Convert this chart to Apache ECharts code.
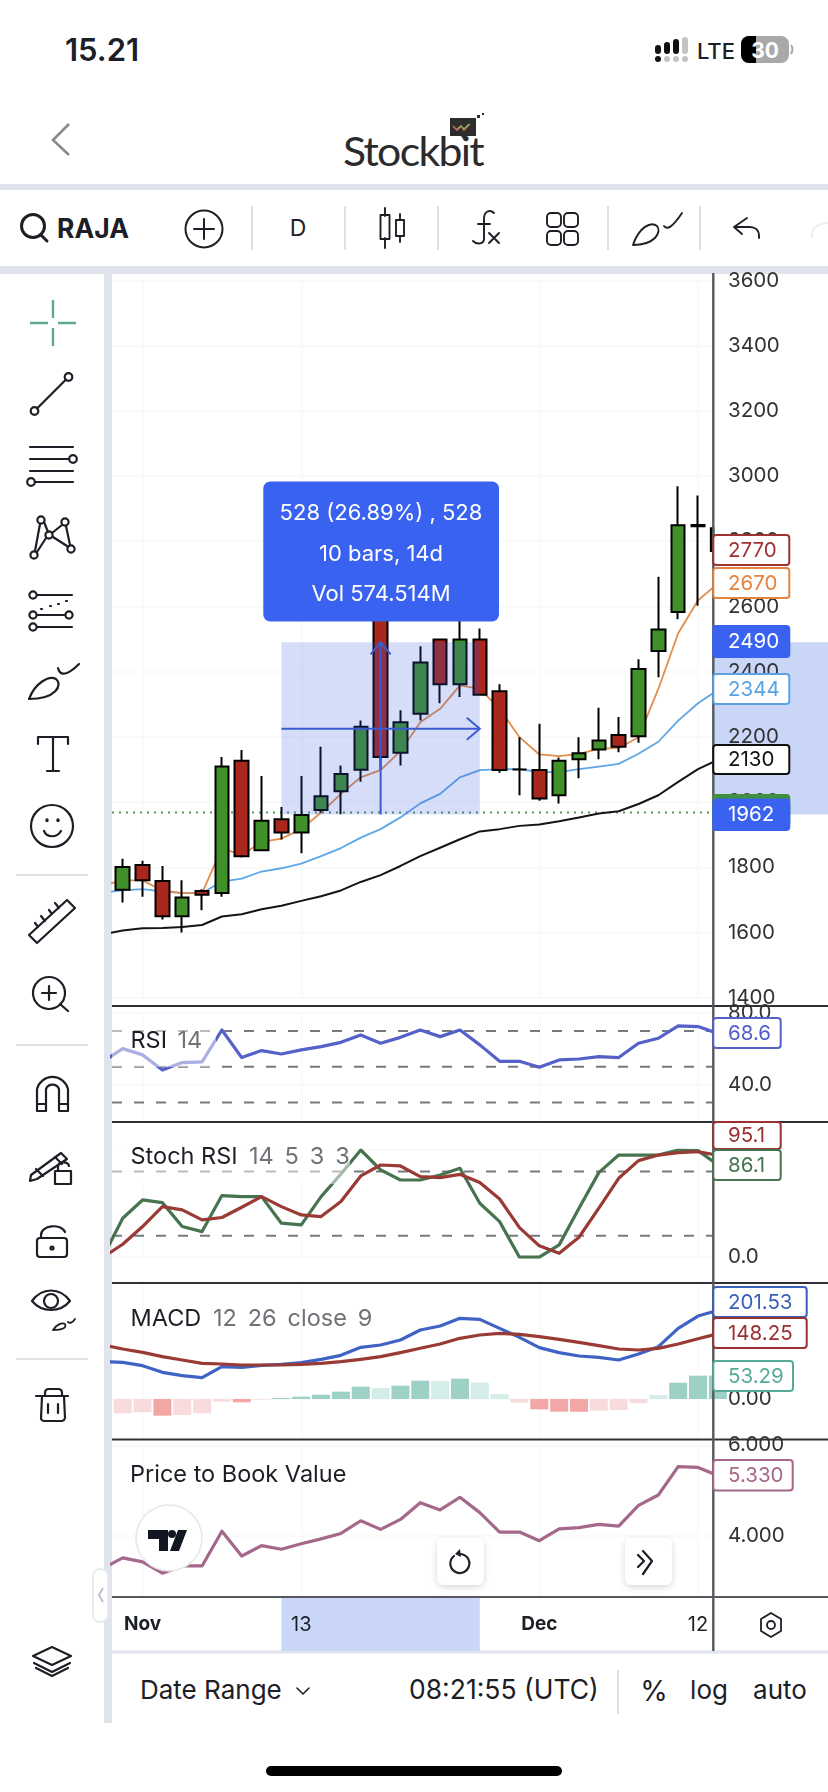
<!DOCTYPE html>
<html>
<head>
<meta charset="utf-8">
<title>RAJA</title>
<script src="https://cdn.jsdelivr.net/npm/echarts@6/dist/echarts.min.js"></script>
<style>
html, body { margin: 0; padding: 0; background: #fff; width: 828px; height: 1792px; overflow: hidden; }
svg, #mychart { position: absolute; left: 0; top: 0; width: 828px; height: 1792px; }
svg text { font-family: Inter, sans-serif; fill: #1c2026; }
.ic { fill: none; stroke: #1c2026; stroke-width: 2.2; stroke-linecap: round; stroke-linejoin: round; }
</style>
</head>
<body>
<svg viewBox="0 0 828 1792">
  <text x="65" y="61" font-size="31" font-weight="600">15.21</text>
  <g fill="#111">
    <rect x="655" y="45" width="6" height="9" rx="3"/><rect x="664" y="42" width="6" height="12" rx="3"/><rect x="673" y="39" width="6" height="15" rx="3"/>
    <rect x="655" y="56" width="6" height="6" rx="3"/>
  </g>
  <g fill="#c4c4c4">
    <rect x="682" y="37" width="6" height="17" rx="3"/><rect x="664" y="56" width="6" height="6" rx="3"/><rect x="673" y="56" width="6" height="6" rx="3"/><rect x="682" y="56" width="6" height="6" rx="3"/>
  </g>
  <text x="697" y="59" font-size="22" font-weight="500">LTE</text>
  <rect x="741" y="36" width="48" height="27" rx="8" fill="#a9a9a9"/>
  <path d="M749 36h7v27h-7a8 8 0 0 1-8-8v-11a8 8 0 0 1 8-8z" fill="#000"/>
  <text x="765" y="58" font-size="21" font-weight="700" text-anchor="middle" style="fill:#fff">30</text>
  <path d="M791 45q3 4 0 9" fill="none" stroke="#a9a9a9" stroke-width="2"/>

  <path d="M69 124L53 140L69 155" fill="none" stroke="#8a8a8a" stroke-width="2.6"/>
  <text x="343" y="166" font-size="41" style="fill:#2b2b2b;font-family:Lato" letter-spacing="-1.6" textLength="140" lengthAdjust="spacingAndGlyphs">Stockbit</text>
  <path d="M450 118h26v18h-10l-2 4-3-4h-11z" fill="#2d2d2d"/>
  <path d="M453 126l4 4 4-4 3 4 6-6" fill="none" stroke="#c9695c" stroke-width="1.6"/>
  <path d="M457 129l4-3 3 3 5-5" fill="none" stroke="#8bb04f" stroke-width="1.2"/>
  <rect x="472" y="119" width="4" height="4" fill="#2d2d2d"/><rect x="477" y="115" width="3" height="3" fill="#2d2d2d"/><rect x="482" y="113" width="2" height="2" fill="#2d2d2d"/>

  <rect x="0" y="184" width="828" height="6" fill="#e0e4ec"/>
  <rect x="0" y="266" width="828" height="8" fill="#e0e4ec"/>
  <circle cx="33" cy="226" r="11.5" class="ic" style="stroke-width:3"/><path d="M41 235L47 241" class="ic" style="stroke-width:3"/>
  <text x="57" y="238" font-size="26.500" font-weight="700">RAJA</text>
  <circle cx="204" cy="229" r="18.5" class="ic" style="stroke-width:2"/><path d="M204 219v20M194 229h20" class="ic" style="stroke-width:2"/>
  <g stroke="#dcdfe5" stroke-width="2">
    <path d="M252 206v44M345 206v44M438 206v44M608 206v44M700 206v44"/>
  </g>
  <text x="298" y="236" font-size="23" text-anchor="middle">D</text>
  <g class="ic" style="stroke-width:1.9">
    <path d="M385 208v8M385 238v10M400 214v6M400 236v6"/><rect x="380.5" y="215" width="9" height="24"/><rect x="396" y="220" width="8" height="16"/>
    <path d="M494 213c-4-4-10-2-10 6v20c0 5-7 6-11 2M478 224h12"/>
    <path d="M489 233l10 10M499 233l-10 10"/>
    <rect x="547" y="213" width="14" height="14" rx="4"/><rect x="564" y="213" width="14" height="14" rx="4"/><rect x="547" y="231" width="14" height="14" rx="4"/><rect x="564" y="231" width="14" height="14" rx="4"/>
    <path d="M633 245c6-18 18-24 24-19 5 6-2 19-24 19zM664 226c3 4 8 2 18-13"/>
    <path d="M747 218l-13 9h16c5 0 9 3 9 9v2M734 227l8 7"/>
  </g>
  <path d="M812 238v-5c0-6 8-10 16-10" fill="none" stroke="#eceef1" stroke-width="2"/>

  <path d="M104 274h8v1449h-8z" fill="#e0e4ec"/>

  <g stroke="#5ea88f" stroke-width="2.4">
    <path d="M53 300v18M53 328v18M30 323h18M58 323h18"/>
  </g>
  <g class="ic">
    <circle cx="34.5" cy="411" r="3.8"/><circle cx="68.5" cy="377" r="3.8"/><path d="M37 408.500L66 379.500"/>
    <path d="M30 447h43M30 459h39M30 471h43M35 482h38"/><circle cx="73" cy="459" r="3.8"/><circle cx="31" cy="482" r="3.8"/>
    <circle cx="41" cy="520" r="3.6"/><circle cx="65" cy="522" r="3.6"/><circle cx="49" cy="535" r="3.6"/><circle cx="34" cy="555" r="3.6"/><circle cx="71" cy="549" r="3.6"/>
    <path d="M40 524L35 551M44 522L48 532M37 552L46 538M52 533L62 525M53 537L67 546M66 526L70 545"/>
    <circle cx="33" cy="595" r="3.6"/><path d="M37 595h35"/><circle cx="33" cy="615" r="3.6"/><circle cx="69" cy="615" r="3.6"/><path d="M37 615h28"/><circle cx="33" cy="627" r="3.6"/><path d="M37 627h35"/>
    <path d="M41 609l1 0M50 606l1 0M58 604l1 0M66 601l1 0"/>
    <path d="M29 699c6-16 20-24 27-20 7 6 0 20-27 20zM58 668c2 9 10 7 21-4"/>
    <path d="M38 744v-7h30v7M53 737v34M47 771h12"/>
    <circle cx="52" cy="826" r="21"/><path d="M44 831c3 7 13 7 17 0"/>
    <path d="M47 820l0 .5M58 820l0 .5" style="stroke-width:3.4"/>
  </g>
  <g stroke="#dfe2e7" stroke-width="2">
    <path d="M16 875h72M16 1045h72M16 1359h72"/>
  </g>
  <g class="ic">
    <path d="M29 935L67 900L75 908L37 943zM38 927l-3-4M45 921l-4-5M52 914l-3-4M59 908l-4-5"/>
    <circle cx="49" cy="993" r="16"/><path d="M49 986v14M42 993h14M60 1004l8 7"/>
    <path d="M37 1111v-22a16 16 0 0 1 31 0v22h-9v-22a7 7 0 0 0-13 0v22zM37 1104h9M59 1104h9"/>
    <path d="M31 1175l30-22 6 6-30 20-7 2zM36 1169l7 7M55 1157l7 7"/><rect x="55" y="1171" width="16" height="13"/><path d="M58 1171v-4c0-6 10-6 11-1"/>
    <rect x="37" y="1238" width="30" height="19" rx="3"/><path d="M41 1238v-3c0-10 20-12 24-3"/><circle cx="52" cy="1248" r="1.500"/>
    <path d="M32 1301c10-14 28-14 38 0c-10 12-28 12-38 0z"/><circle cx="51" cy="1301" r="7"/>
    <path d="M53 1330c3-5 9-8 12-6 2 4-3 6-12 6zM68 1322c2 2 5 0 7-3" style="stroke-width:1.8"/>
    <path d="M36 1396h32M42 1396l-1 23a4 4 0 0 0 3 2h18a4 4 0 0 0 3-3l-1-22M45 1396v-3q0-4 4-4h9q4 0 4 4v3M48 1404v9M58 1404v9"/>
    <path d="M33 1656l19-9 19 9-19 9zM34 1663l18 9 18-9M36 1668l16 8 16-8"/>
  </g>
  <rect x="93" y="1569" width="15" height="53" rx="7" fill="#fff" stroke="#e4e6ea" stroke-width="1.500"/>
  <path d="M103 1588l-4 7 4 7" fill="none" stroke="#b8bcc4" stroke-width="1.800"/>

  <path d="M112 1652h716" stroke="#e0e4ec" stroke-width="3"/>
  <path d="M771 1613l10 6v12l-10 6-10-6v-12z" class="ic" style="stroke-width:1.800"/><circle cx="771" cy="1625" r="4" class="ic" style="stroke-width:1.800"/>

  <text x="140" y="1699" font-size="26">Date Range</text>
  <path d="M297 1688l6 6 6-6" class="ic" style="stroke-width:1.600"/>
  <text x="409" y="1699" font-size="26.500">08:21:55 (UTC)</text>
  <path d="M618 1670v44" stroke="#dcdfe5" stroke-width="2"/>
  <text x="654" y="1701" font-size="28" text-anchor="middle">%</text>
  <text x="709" y="1699" font-size="26" text-anchor="middle">log</text>
  <text x="780" y="1699" font-size="26" text-anchor="middle">auto</text>
  <rect x="266" y="1766" width="296" height="10" rx="5" fill="#000"/>
</svg>

<div id="mychart"></div>

<svg viewBox="0 0 828 1792" style="pointer-events:none">
  <defs><filter id="sh" x="-30%" y="-30%" width="160%" height="170%"><feDropShadow dx="0" dy="2" stdDeviation="3" flood-opacity=".16"/></filter></defs>
  <circle cx="169" cy="1538" r="33" fill="#fff" stroke="#e4e6e8" stroke-width="1.500"/>
  <path d="M148 1530h20v21h-9v-12h-11zM187 1530h-9l-8 21h9z" fill="#131722"/><circle cx="172" cy="1534" r="4" fill="#131722"/>
  <rect x="437" y="1538" width="47" height="47" rx="7" fill="#fff" filter="url(#sh)"/>
  <path d="M454 1556a9.500 9.500 0 1 0 6-2" class="ic"/><path d="M460 1549l-5 5 6 3z" fill="#1c2026"/>
  <rect x="625" y="1538" width="47" height="47" rx="7" fill="#fff" filter="url(#sh)"/>
  <path d="M638 1555l6 6-6 6M643 1551l9 10-9 13" class="ic"/>
</svg>

<script>
"use strict";
// index 0 of the line arrays is the bar just left of the visible window
const opens  = [1731, 1807, 1758, 1650, 1727, 1721, 2127, 1852, 1947, 1907, 1976, 2033, 2099, 2650, 2151, 2271, 2499, 2361, 2499, 2340, 2100, 2098, 2021, 2131, 2161, 2206, 2202, 2463, 2583, 2846, 2840];
const closes = [1801, 1760, 1650, 1707, 1716, 2109, 1834, 1943, 1907, 1960, 2018, 2086, 2231, 2138, 2245, 2428, 2361, 2499, 2329, 2098, 2100, 2011, 2127, 2150, 2189, 2170, 2408, 2529, 2849, 2850, 2770];
const lows   = [1692, 1710, 1640, 1600, 1668, 1710, 1830, 1852, 1885, 1843, 1967, 1963, 2062, 2100, 2112, 2250, 2303, 2322, 2329, 2090, 2021, 2004, 1996, 2073, 2131, 2153, 2182, 2383, 2561, 2602, 2770];
const highs  = [1826, 1820, 1804, 1760, 1733, 2138, 2160, 2080, 1985, 2080, 2170, 2112, 2250, 2700, 2282, 2478, 2499, 2570, 2532, 2361, 2199, 2240, 2137, 2199, 2289, 2261, 2438, 2691, 2969, 2940, 2840];
const maFast = [1745, 1760, 1760, 1729, 1721, 1721, 1859, 1837, 1878, 1888, 1917, 1968, 2025, 2076, 2098, 2156, 2245, 2286, 2358, 2347, 2286, 2199, 2146, 2141, 2148, 2163, 2166, 2199, 2347, 2518, 2619, 2670];
const maMid  = [1723, 1729, 1733, 1726, 1721, 1721, 1756, 1765, 1787, 1797, 1811, 1834, 1859, 1891, 1917, 1953, 1996, 2025, 2076, 2098, 2101, 2101, 2092, 2092, 2101, 2109, 2117, 2148, 2185, 2250, 2303, 2344];
const maSlow = [1594, 1606, 1613, 1614, 1617, 1623, 1649, 1656, 1671, 1682, 1697, 1711, 1729, 1755, 1776, 1804, 1834, 1860, 1886, 1910, 1917, 1927, 1931, 1941, 1953, 1965, 1972, 1994, 2021, 2062, 2101, 2130];
const rsi    = [52.8, 60.1, 56.6, 48.2, 52.3, 52.7, 70.5, 55.1, 59, 57.1, 59.4, 61.2, 63.6, 67.7, 63.1, 66.4, 70.5, 66.8, 70.5, 62.2, 53, 53, 49.7, 53.8, 54.3, 55.6, 55.1, 63.1, 65.9, 72.8, 72.4, 68.6];
const stochK = [0, 36.3, 53.4, 50.9, 28.6, 23.9, 57.5, 56.5, 56.5, 31.7, 30.1, 56.5, 77.6, 100, 81.4, 72, 72, 76.7, 82.9, 50.3, 33.2, 0, 0, 11.5, 45.7, 78.9, 95.3, 95.3, 95.3, 100, 99.4, 86.1];
const stochD = [0, 12.1, 28.6, 47.2, 44.1, 34.8, 37, 46.6, 56.5, 47.2, 39.4, 37.9, 51.9, 75.8, 86, 85.1, 75.2, 74.2, 77.3, 69.6, 54.3, 27.6, 10.6, 3.7, 18.6, 45.7, 73.6, 90.1, 95.3, 97.5, 98.4, 95.1];
const macd   = [84.8, 83.3, 75.8, 60.6, 53, 48.5, 73.5, 72, 76.5, 78.8, 82.6, 90.2, 99.2, 117.4, 122.7, 134.1, 156.8, 165.9, 183.3, 181, 160.6, 140.2, 116.7, 105.3, 97.7, 94.7, 88.6, 102.3, 118.9, 160.6, 188.6, 201.53];
const signal = [122.7, 113.6, 106.1, 96.2, 88.6, 81.1, 79.5, 77.3, 77.3, 77.3, 78.8, 81.1, 84.8, 90.2, 96.2, 105.3, 115.2, 125, 137.9, 145.5, 149.2, 147, 141.7, 135.6, 128.8, 121.2, 113.6, 111.4, 115.2, 125, 137.1, 148.25];
const hist   = [-32.6, -30.3, -37.9, -36.4, -32.6, -6, -7.6, -1.5, 2.3, 5.3, 9.8, 16.7, 28, 25, 30.3, 41.7, 41, 46.2, 37, 11.4, -8.3, -23.5, -28.8, -29, -26.5, -25, -9.8, 9, 37, 53, 53.29];
const pbv    = [3.28, 3.51, 3.42, 3.17, 3.33, 3.33, 4.10, 3.55, 3.78, 3.70, 3.82, 3.93, 4.05, 4.33, 4.14, 4.36, 4.73, 4.57, 4.85, 4.51, 4.08, 4.08, 3.89, 4.15, 4.18, 4.25, 4.21, 4.67, 4.90, 5.53, 5.51, 5.33];

const dateTicks = [1, 9, 21, 29];
const dateLabels = ['Nov', '13', 'Dec', '12'];
const rsiLevels = [70, 50, 30];
const stochLevels = [80, 20];
const measureBars = [8, 13, 18];
const measurePrices = [1962, 2225, 2490];
const priceLine = 1968;
const measureText = ['528 (26.89%) , 528', '10 bars, 14d', 'Vol 574.514M'];

const FONT = 'Inter';
const PLOT_LEFT = 112, PLOT_RIGHT = 713.3, PANE_TEXT_X = 728;
const X_MIN = -0.54, X_MAX = 29.77;
const GREEN = '#41912b', RED = '#a9271d', BLUE = '#3a62f0';
const GRID_LINE = '#f7f8f9';

// pane layout: pixels of the value axis range, and its range
const panes = [
    { top: 280.4, bottom: 997.7, min: 1400, max: 3600, interval: 200 },
    { top: 1013, bottom: 1120.4, min: 20, max: 80, labels: [40, 80], digits: 1 },
    { top: 1150, bottom: 1257.2, min: 0, max: 100, labels: [0, 100], digits: 1 },
    { top: 1284.6, bottom: 1438.6, min: -90, max: 260, labels: [0], digits: 2 },
    { top: 1445.3, bottom: 1596.7, min: 2.65, max: 6, labels: [4, 6], digits: 3 }
];

const grid = panes.map(p => ({
    left: PLOT_LEFT,
    width: PLOT_RIGHT - PLOT_LEFT,
    top: p.top,
    height: p.bottom - p.top
}));
const xAxis = panes.map((p, i) => ({
    type: 'value',
    gridIndex: i,
    min: X_MIN,
    max: X_MAX,
    axisLine: { show: false },
    axisTick: { show: false, customValues: dateTicks },
    splitLine: { show: true, lineStyle: { color: GRID_LINE, width: 1.5 } },
    axisLabel: i < panes.length - 1 ? { show: false, customValues: dateTicks } : {
        show: true,
        customValues: dateTicks,
        margin: 18,
        fontFamily: FONT,
        fontSize: 20,
        color: '#1c2026',
        formatter: v => {
            const s = dateLabels[dateTicks.indexOf(v)];
            return isNaN(+s) ? '{b|' + s + '}' : s;
        },
        rich: { b: { fontFamily: FONT, fontSize: 19, fontWeight: 700, color: '#1c2026' } }
    }
}));
const yAxis = panes.map((p, i) => {
    const ticks = p.labels ? { customValues: p.labels } : {};
    return {
        type: 'value',
        gridIndex: i,
        position: 'right',
        min: p.min,
        max: p.max,
        interval: p.interval,
        axisLine: { show: false },
        axisTick: Object.assign({ show: false }, ticks),
        splitLine: { show: true, lineStyle: { color: GRID_LINE, width: 1.5 } },
        axisLabel: Object.assign({
            margin: PANE_TEXT_X - PLOT_RIGHT,
            fontFamily: FONT,
            fontSize: 20.5,
            color: '#333',
            padding: [2, 0, 0, 0],
            showMinLabel: true,
            showMaxLabel: true,
            formatter: v => p.digits ? v.toFixed(p.digits) : String(v)
        }, ticks)
    };
});

function points(values) {
    return values.map((v, i) => [i - 1, v]);
}
function lineSeries(pane, values, color, width) {
    return {
        type: 'line',
        xAxisIndex: pane,
        yAxisIndex: pane,
        data: points(values),
        symbol: 'none',
        silent: true,
        lineStyle: { color, width, join: 'round' }
    };
}
function levelSeries(pane, value, color, width, dash) {
    return {
        type: 'line',
        xAxisIndex: pane,
        yAxisIndex: pane,
        data: [[X_MIN, value], [X_MAX, value]],
        symbol: 'none',
        silent: true,
        z: 1,
        lineStyle: { color, width, type: dash }
    };
}

function renderBands(params, api) {
    const a = api.coord([measureBars[0], measurePrices[2]]);
    const b = api.coord([measureBars[2], measurePrices[0]]);
    return {
        type: 'group',
        children: [
            { type: 'rect', shape: { x: PLOT_RIGHT, y: a[1], width: 828 - PLOT_RIGHT, height: b[1] - a[1] }, style: { fill: '#c9d6f8' } },
            { type: 'rect', shape: { x: a[0], y: 1598, width: b[0] - a[0], height: 53 }, style: { fill: '#c9d6f8' } }
        ]
    };
}
function renderMeasure(params, api) {
    const a = api.coord([measureBars[0], measurePrices[2]]);
    const b = api.coord([measureBars[2], measurePrices[0]]);
    const c = api.coord([measureBars[1], measurePrices[1]]);
    const line = { stroke: '#3a5cd0', lineWidth: 2, fill: null };
    return {
        type: 'group',
        children: [
            { type: 'rect', shape: { x: a[0], y: a[1], width: b[0] - a[0], height: b[1] - a[1] }, style: { fill: 'rgba(50,85,225,0.2)' } },
            { type: 'line', shape: { x1: a[0], y1: c[1], x2: b[0], y2: c[1] }, style: line },
            { type: 'line', shape: { x1: c[0], y1: a[1], x2: c[0], y2: b[1] }, style: line },
            { type: 'polyline', shape: { points: [[c[0] - 10, a[1] + 12], [c[0], a[1]], [c[0] + 10, a[1] + 12]] }, style: line },
            { type: 'polyline', shape: { points: [[b[0] - 13, c[1] - 11], [b[0], c[1]], [b[0] - 13, c[1] + 11]] }, style: line }
        ]
    };
}
// the candlestick series does not cut a bar at the pane edge, so the last one is clipped by hand
function renderEdgeCandle(params, api) {
    const a = api.coord([api.value(0), api.value(1)]);
    const b = api.coord([api.value(0), api.value(2)]);
    const shape = echarts.graphic.clipRectByRect(
        { x: a[0] - 7, y: a[1], width: 14, height: b[1] - a[1] },
        { x: params.coordSys.x, y: params.coordSys.y, width: params.coordSys.width, height: params.coordSys.height }
    );
    return shape && { type: 'rect', shape, style: { fill: RED, stroke: '#000', lineWidth: 2 } };
}

const lastBar = opens.length - 1;
const series = [
    { type: 'custom', xAxisIndex: 0, yAxisIndex: 0, z: -1, silent: true, data: [[0, 0]], renderItem: renderBands },
    levelSeries(0, priceLine, '#4f9a5c', 2, [2, 5]),
    lineSeries(0, maSlow, '#141414', 2),
    lineSeries(0, maMid, '#5ea6e6', 1.8),
    lineSeries(0, maFast, '#e28d4c', 1.8),
    {
        type: 'candlestick',
        xAxisIndex: 0,
        yAxisIndex: 0,
        silent: true,
        barWidth: 14,
        z: 3,
        data: opens.slice(0, lastBar).map((o, i) => [i, o, closes[i], lows[i], highs[i]]),
        itemStyle: { color: GREEN, color0: RED, borderColor: '#000', borderColor0: '#000', borderColorDoji: '#000', borderWidth: 2 }
    },
    {
        type: 'custom',
        xAxisIndex: 0,
        yAxisIndex: 0,
        z: 3,
        silent: true,
        data: [[lastBar, opens[lastBar], closes[lastBar]]],
        renderItem: renderEdgeCandle
    },
    { type: 'custom', xAxisIndex: 0, yAxisIndex: 0, z: 5, silent: true, data: [[0, 0]], renderItem: renderMeasure }
];
rsiLevels.forEach(v => series.push(levelSeries(1, v, '#77797f', 2, [10, 12])));
series.push(lineSeries(1, rsi, '#5560c8', 3.2));
stochLevels.forEach(v => series.push(levelSeries(2, v, '#77797f', 2, [10, 12])));
series.push(lineSeries(2, stochK, '#47744f', 3.2));
series.push(lineSeries(2, stochD, '#9a3a35', 3.2));
series.push({
    type: 'bar',
    xAxisIndex: 3,
    yAxisIndex: 3,
    silent: true,
    barWidth: 18,
    z: 1,
    data: hist.map((v, i) => {
        const growing = i > 0 && Math.abs(v) > Math.abs(hist[i - 1]);
        const color = v >= 0 ? (growing ? '#9ed1c5' : '#d4ede8') : (growing ? '#f2a6a6' : '#f8dcdd');
        return { value: [i, v], itemStyle: { color } };
    })
});
series.push(lineSeries(3, macd, '#3f63c4', 3.2));
series.push(lineSeries(3, signal, '#9a3a35', 3.2));
series.push(lineSeries(4, pbv, '#a5678a', 3.2));

// boxed last-value tags: [text, colour, top, bottom, right edge, filled]
const tags = [
    ['2770', '#9e3131', 535, 565, 789.3],
    ['2670', '#e5843e', 568, 598, 789.3],
    ['', '#3f8f3f', 795, 825, 789.3, true],
    ['2490', BLUE, 626, 657, 789.3, true],
    ['2344', '#5ba2e4', 674, 704, 789.3],
    ['2130', '#111', 745, 774, 789.3],
    ['1962', BLUE, 799.5, 830, 789.3, true],
    ['68.6', '#5560c8', 1018, 1048, 780.7],
    ['95.1', '#9a3030', 1122, 1149, 780.7],
    ['86.1', '#47744f', 1150, 1180, 780.7],
    ['201.53', '#3a5fb8', 1287, 1317, 806.7],
    ['148.25', '#9a3030', 1318, 1348, 806.7],
    ['53.29', '#57ab98', 1361, 1391, 793],
    ['5.330', '#a5678a', 1460, 1490.500, 792.7]
];
const graphics = [];
function addText(text, x, y, fill, size, weight, align) {
    graphics.push({
        type: 'text',
        z: 120,
        silent: true,
        style: { text, x, y, fill, font: (weight || 400) + ' ' + size + 'px ' + FONT, textAlign: align || 'left', textVerticalAlign: 'middle' }
    });
}
function addRule(x1, y1, x2, y2, stroke, lineWidth) {
    graphics.push({ type: 'line', z: 100, silent: true, shape: { x1, y1, x2, y2 }, style: { stroke, lineWidth } });
}
[1006, 1122, 1283, 1439.500].forEach(y => addRule(PLOT_LEFT, y, 828, y, '#2f3136', 2));
addRule(PLOT_LEFT, 1597, 828, 1597, '#55585c', 2);
addRule(PLOT_RIGHT, 273, PLOT_RIGHT, 1651, '#55585c', 2.4);

tags.forEach(t => {
    graphics.push({
        type: 'rect',
        z: 110,
        silent: true,
        shape: { x: PLOT_RIGHT, y: t[2], width: t[4] - PLOT_RIGHT, height: t[3] - t[2], r: 3 },
        style: { fill: t[5] ? t[1] : '#fff', stroke: t[1], lineWidth: 2 }
    });
    if (t[0]) {
        addText(t[0], PANE_TEXT_X, (t[2] + t[3]) / 2 + 0.5, t[5] ? '#fff' : t[1], 20.5);
    }
});

// faded backing behind pane titles
[[PLOT_LEFT, 1022, 104, 45], [PLOT_LEFT, 1128, 238, 56]].forEach(r => {
    graphics.push({
        type: 'rect', z: 90, silent: true,
        shape: { x: r[0], y: r[1], width: r[2], height: r[3] },
        style: { fill: 'rgba(255,255,255,0.5)' }
    });
});
const TITLE = 23.5;
addText('RSI', 130.500, 1041, '#1c2026', TITLE);
addText('14', 177.500, 1041, '#6f7277', TITLE);
addText('Stoch RSI', 130.500, 1157, '#1c2026', TITLE);
addText('14\u2009 5\u2009 3\u2009 3', 249, 1157, '#6f7277', TITLE);
addText('MACD', 130.500, 1319, '#1c2026', TITLE);
addText('12\u2009 26\u2009 close\u2009 9', 213, 1319, '#6f7277', TITLE);
addText('Price to Book Value', 130, 1475, '#1c2026', TITLE);

graphics.push({
    type: 'rect', z: 110, silent: true,
    shape: { x: 263.300, y: 481.400, width: 235.700, height: 140.200, r: 7 },
    style: { fill: BLUE }
});
measureText.forEach((t, i) => addText(t, 381, 513.5 + i * 40.500, '#fff', 22, 400, 'center'));

const myChart = echarts.init(document.getElementById('mychart'), null, { renderer: 'canvas', width: 828, height: 1792 });
myChart.setOption({
    animation: false,
    backgroundColor: 'transparent',
    grid,
    xAxis,
    yAxis,
    series,
    graphic: { elements: graphics }
});
</script>
</body>
</html>
